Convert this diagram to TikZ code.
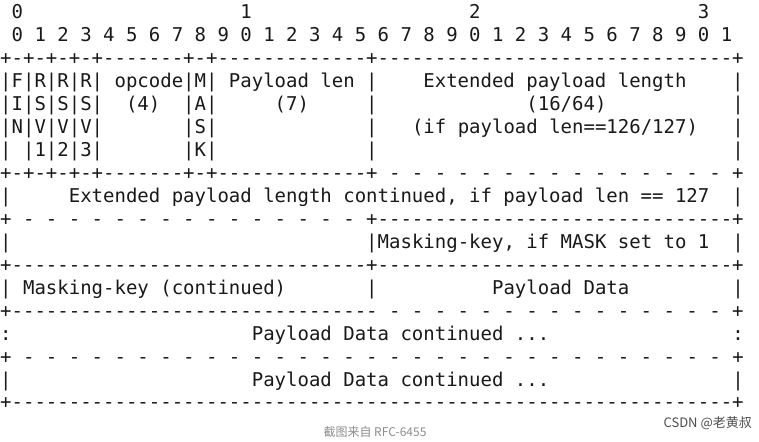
\documentclass[tikz,border=0pt]{standalone}
\usepackage{fontspec}
\setmonofont{DejaVu Sans Mono}
\newfontfamily\cjk{Noto Sans CJK SC}
\ExplSyntaxOn
\cs_new:Npn \rep #1#2 {\prg_replicate:nn{#1}{#2}}
\ExplSyntaxOff
\newlength\cw
\setlength\cw{11.439pt}
\newcommand\spc[1]{\hbox to #1\cw{\hfil}}
\begin{document}
\begin{tikzpicture}[x=1pt,y=1pt,
  ln/.style={anchor=base west,inner sep=0pt,font=\fontsize{19}{23}\ttfamily,text=black!90}]
\useasboundingbox (0,0) rectangle (759,-441);
\newcommand\Y[1]{-(12+22.94*#1)-7}
\node[ln] (l0) at (0,{\Y{0}}) {\spc{1}0\spc{19}1\spc{19}2\spc{19}3};
\node[ln] (l1) at (0,{\Y{1}}) {\spc{1}0\spc{1}1\spc{1}2\spc{1}3\spc{1}4\spc{1}5\spc{1}6\spc{1}7\spc{1}8\spc{1}9\spc{1}0\spc{1}1\spc{1}2\spc{1}3\spc{1}4\spc{1}5\spc{1}6\spc{1}7\spc{1}8\spc{1}9\spc{1}0\spc{1}1\spc{1}2\spc{1}3\spc{1}4\spc{1}5\spc{1}6\spc{1}7\spc{1}8\spc{1}9\spc{1}0\spc{1}1};
\node[ln] (l2) at (0,{\Y{2}}) {+-+-+-+-+\rep{7}{-}+-+\rep{13}{-}+\rep{31}{-}+};
\node[ln] (l3) at (0,{\Y{3}}) {|F|R|R|R|\spc{1}opcode|M|\spc{1}Payload\spc{1}len\spc{1}|\spc{4}Extended\spc{1}payload\spc{1}length\spc{4}|};
\node[ln] (l4) at (0,{\Y{4}}) {|I|S|S|S|\spc{2}(4)\spc{2}|A|\spc{5}(7)\spc{5}|\spc{13}(16/64)\spc{11}|};
\node[ln] (l5) at (0,{\Y{5}}) {|N|V|V|V|\spc{7}|S|\spc{13}|\spc{3}(if\spc{1}payload\spc{1}len==126/127)\spc{3}|};
\node[ln] (l6) at (0,{\Y{6}}) {|\spc{1}|1|2|3|\spc{7}|K|\spc{13}|\spc{31}|};
\node[ln] (l7) at (0,{\Y{7}}) {+-+-+-+-+\rep{7}{-}+-+\rep{13}{-}+\rep{15}{\spc{1}-}\spc{1}+};
\node[ln] (l8) at (0,{\Y{8}}) {|\spc{5}Extended\spc{1}payload\spc{1}length\spc{1}continued,\spc{1}if\spc{1}payload\spc{1}len\spc{1}==\spc{1}127\spc{2}|};
\node[ln] (l9) at (0,{\Y{9}}) {+\rep{15}{\spc{1}-}\spc{1}+\rep{31}{-}+};
\node[ln] (l10) at (0,{\Y{10}}) {|\spc{31}|Masking-key,\spc{1}if\spc{1}MASK\spc{1}set\spc{1}to\spc{1}1\spc{2}|};
\node[ln] (l11) at (0,{\Y{11}}) {+\rep{31}{-}+\rep{31}{-}+};
\node[ln] (l12) at (0,{\Y{12}}) {|\spc{1}Masking-key\spc{1}(continued)\spc{7}|\spc{10}Payload\spc{1}Data\spc{9}|};
\node[ln] (l13) at (0,{\Y{13}}) {+\rep{32}{-}\rep{15}{\spc{1}-}\spc{1}+};
\node[ln] (l14) at (0,{\Y{14}}) {:\spc{21}Payload\spc{1}Data\spc{1}continued\spc{1}...\spc{16}:};
\node[ln] (l15) at (0,{\Y{15}}) {+\rep{31}{\spc{1}-}\spc{1}+};
\node[ln] (l16) at (0,{\Y{16}}) {|\spc{21}Payload\spc{1}Data\spc{1}continued\spc{1}...\spc{16}|};
\node[ln] (l17) at (0,{\Y{17}}) {+\rep{63}{-}+};
\node[font=\cjk\fontsize{12}{14}\selectfont,text=black!45,inner sep=0pt] (w1) at (375,-432) {截图来自 RFC-6455};
\node[font=\cjk\fontsize{13}{15}\selectfont,text=black!70,inner sep=0pt,anchor=east] (w2) at (752,-423) {CSDN @老黄叔};
\end{tikzpicture}
\end{document}
